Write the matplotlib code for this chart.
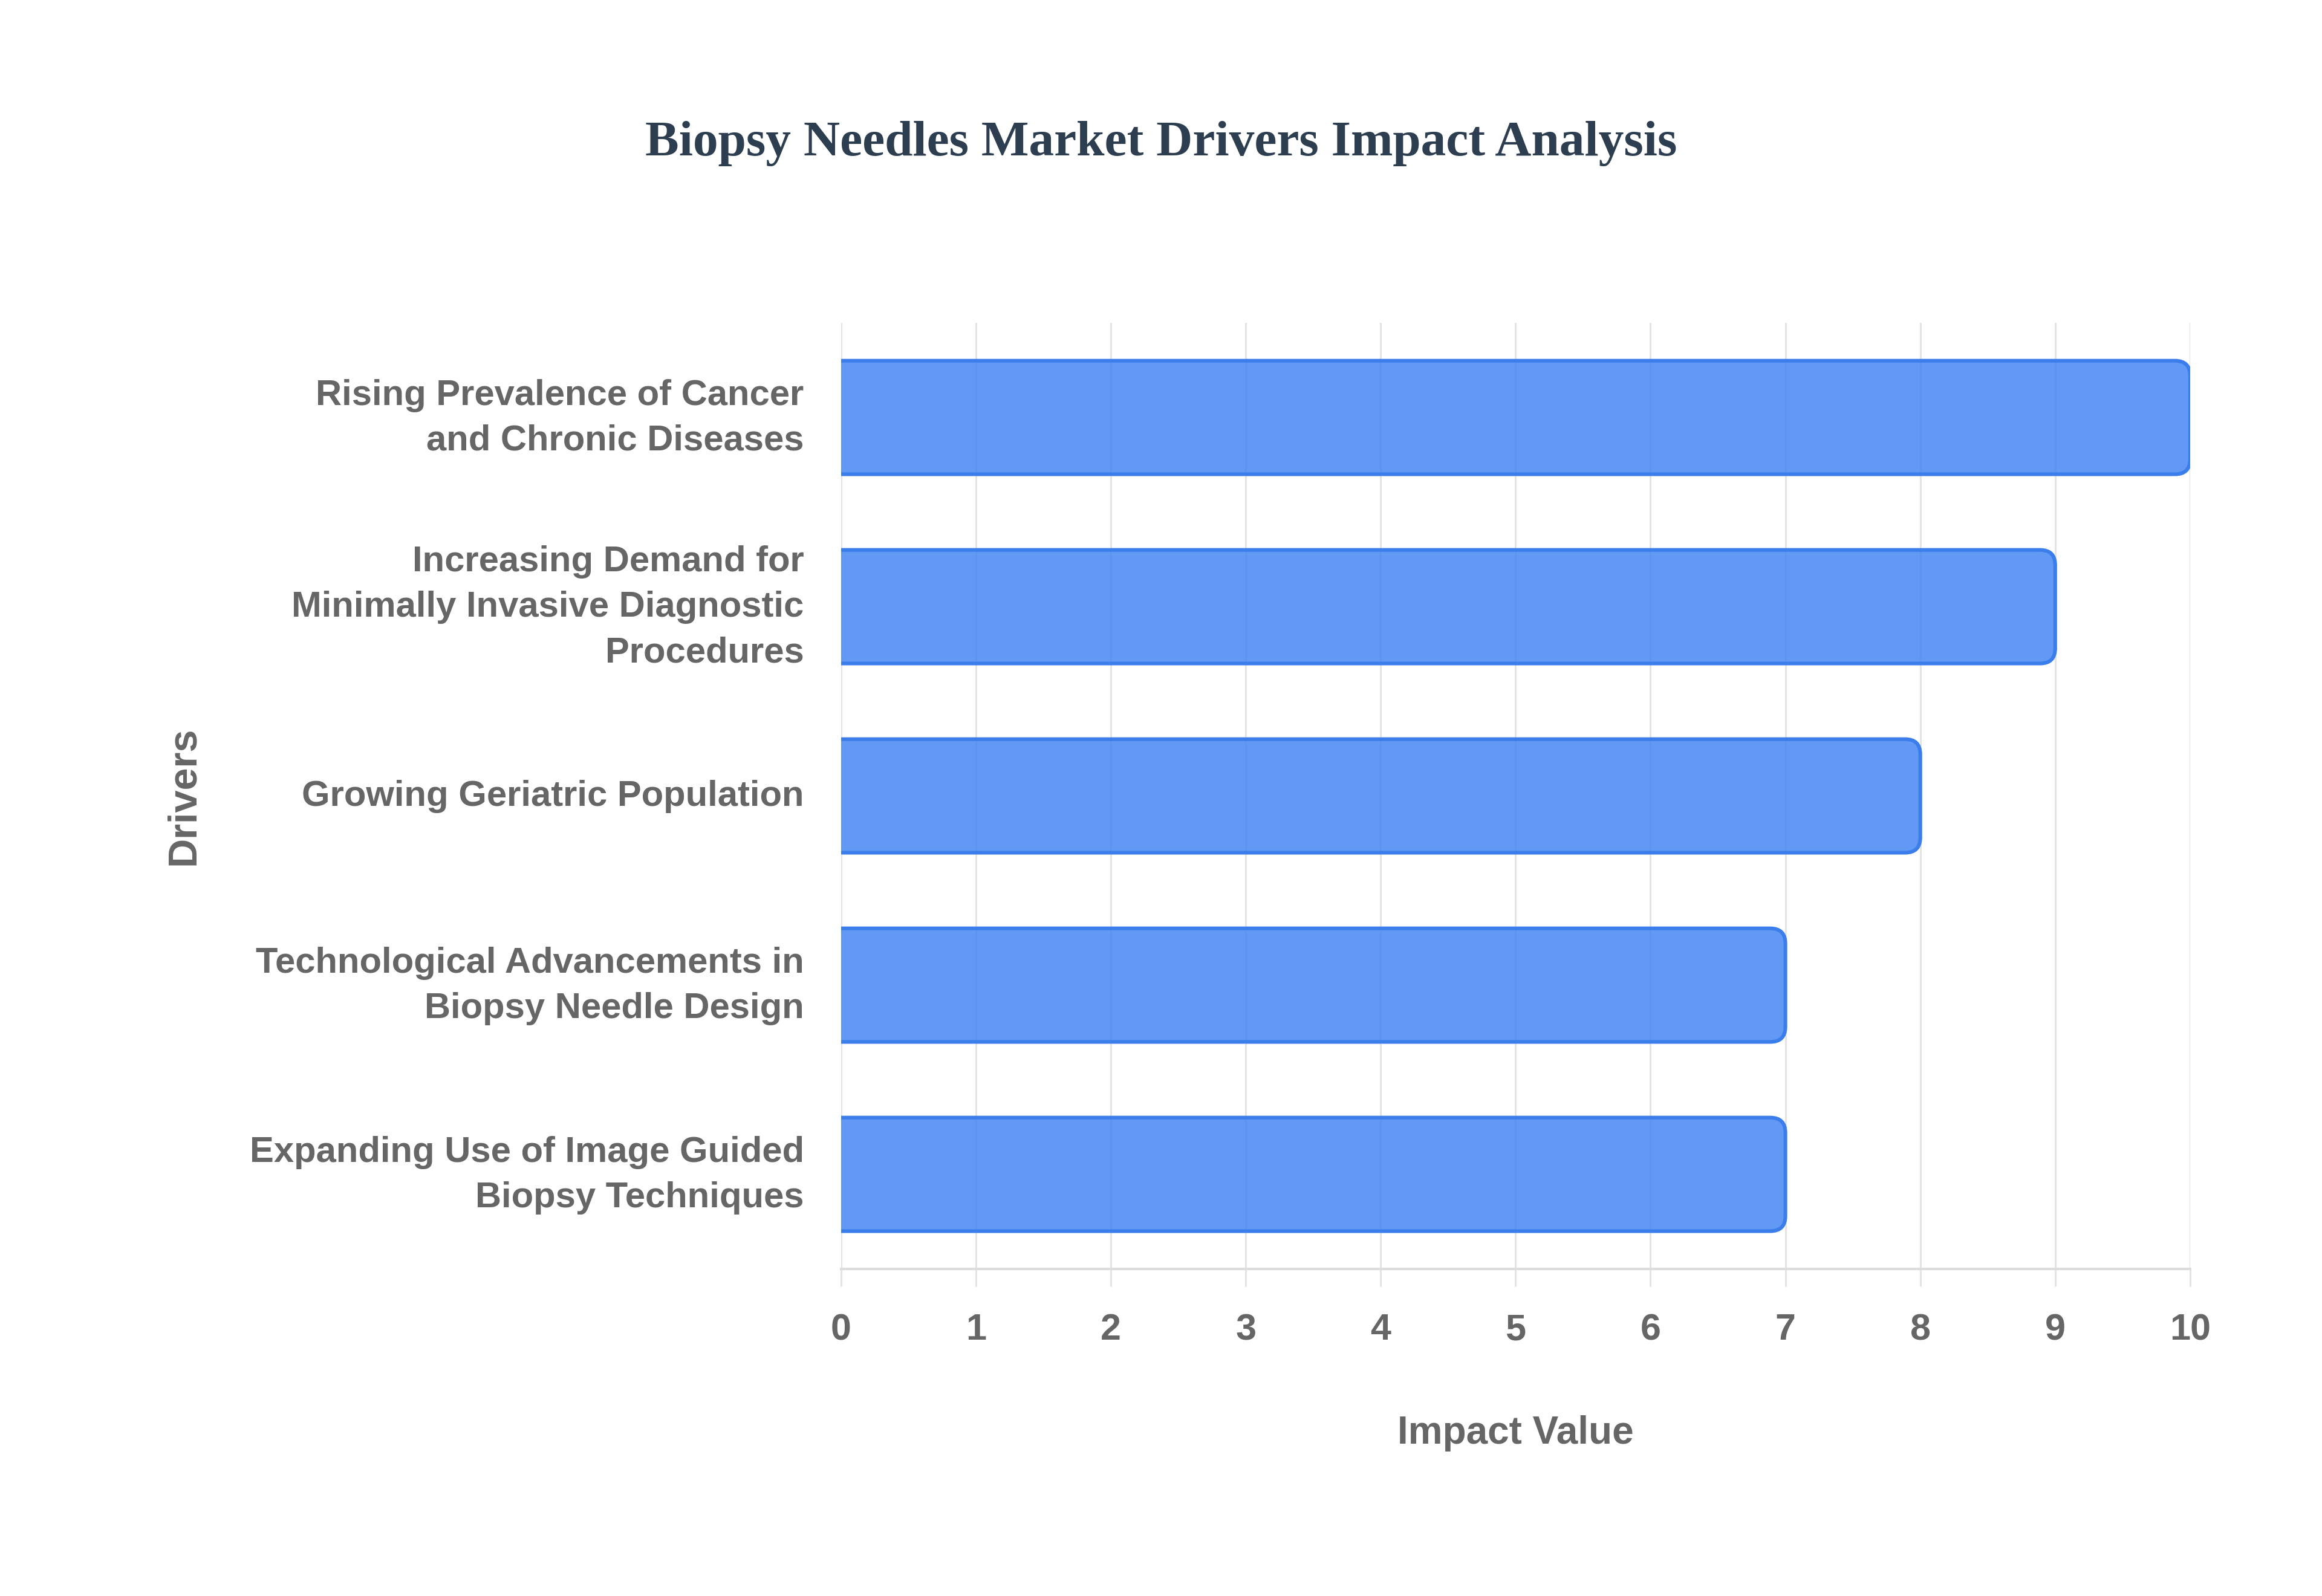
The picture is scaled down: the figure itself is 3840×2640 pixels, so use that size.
import matplotlib
matplotlib.use('Agg')
import matplotlib.pyplot as plt
import matplotlib.transforms as mtransforms
from matplotlib.patches import FancyBboxPatch

drivers = [
    'Rising Prevalence of Cancer\nand Chronic Diseases',
    'Increasing Demand for\nMinimally Invasive Diagnostic\nProcedures',
    'Growing Geriatric Population',
    'Technological Advancements in\nBiopsy Needle Design',
    'Expanding Use of Image Guided\nBiopsy Techniques',
]
impact = [10, 9, 8, 7, 7]
x_ticks = list(range(0, 11))

TITLE = 'Biopsy Needles Market Drivers Impact Analysis'
TEXT_COL = '#666666'
TITLE_COL = '#2C3E50'
GRID_COL = '#E4E4E4'
BAR_FILL = (0.23, 0.50, 0.95, 0.80)
BAR_EDGE = '#3B7EEB'
SANS = ['Liberation Sans', 'DejaVu Sans']

fig = plt.figure(figsize=(19.2, 13.2), dpi=200)
ax = fig.add_axes([0.3622, 0.2049, 0.5810, 0.5928])

ypos = list(range(len(drivers)))
bar_h = 0.6
ax.set_xlim(0, 10)
ax.set_ylim(len(drivers) - 0.5, -0.5)

# rounded right ends, left end hidden behind x=0
r = 0.112
for y, v in zip(ypos, impact):
    patch = FancyBboxPatch((-0.5, y - bar_h / 2), v + 0.5, bar_h,
                           boxstyle='round,pad=0,rounding_size=%f' % r,
                           mutation_aspect=0.714,
                           facecolor=BAR_FILL, edgecolor=BAR_EDGE,
                           linewidth=2.2, zorder=3)
    ax.add_patch(patch)

ax.set_yticks(ypos)
ax.set_yticklabels(drivers, fontsize=21.5, fontweight='bold', color=TEXT_COL,
                   family=SANS, linespacing=1.47)
ax.set_xticks(x_ticks)
ax.set_xticklabels([str(t) for t in x_ticks], fontsize=22, fontweight='bold',
                   color=TEXT_COL, family=SANS)
ax.tick_params(axis='y', length=0, pad=22)
ax.tick_params(axis='x', length=10.4, width=1.1, color=GRID_COL, pad=16)

# nudge labels up a little so multi-line labels sit centred on their bars
for lab in ax.get_yticklabels():
    dy = 1.8 if '\n' not in lab.get_text() else 5.4
    off = mtransforms.ScaledTranslation(0, dy / 72, fig.dpi_scale_trans)
    lab.set_transform(lab.get_transform() + off)

ax.grid(axis='x', color=GRID_COL, linewidth=1.1, zorder=0)
ax.set_axisbelow(True)
for s in ['top', 'right', 'left']:
    ax.spines[s].set_visible(False)
ax.spines['bottom'].set_color('#DDDDDD')
ax.spines['bottom'].set_linewidth(1.5)

ax.set_xlabel('Impact Value', fontsize=23, fontweight='bold', color=TEXT_COL,
              family=SANS, va='center')
ax.xaxis.set_label_coords(0.5, -0.1738)
ax.set_ylabel('Drivers', fontsize=24, fontweight='bold', color=TEXT_COL,
              family=SANS, va='center', ha='center')
ax.yaxis.set_label_coords(-0.487, 0.5)

fig.text(0.5, 1 - 257 / 2640, TITLE, ha='center', va='baseline',
         fontsize=30, fontweight='bold', color=TITLE_COL,
         family=['Liberation Serif', 'DejaVu Serif'])

fig.savefig('out.png', dpi=200, facecolor='white')
